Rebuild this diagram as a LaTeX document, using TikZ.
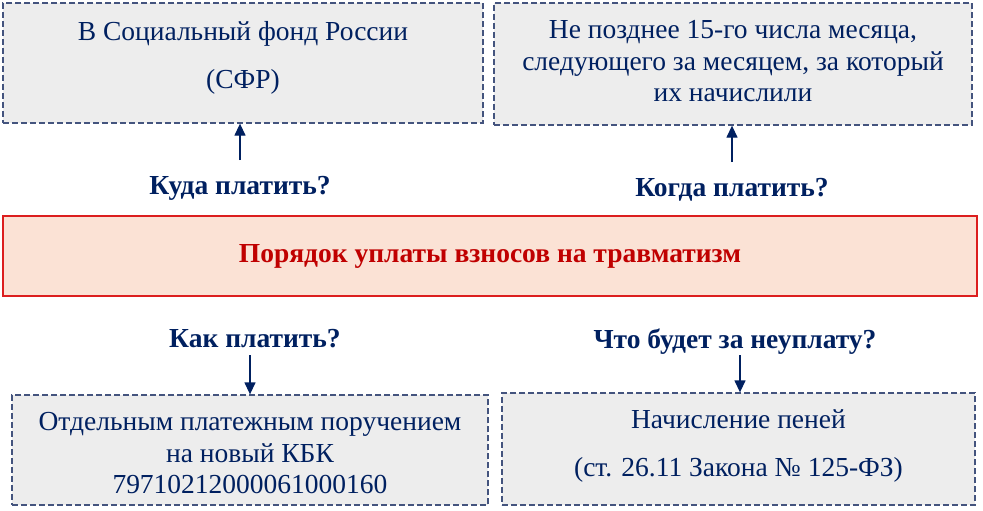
\documentclass[tikz,border=0pt]{standalone}
\usepackage{fontspec}
\setmainfont{Liberation Serif}
\usetikzlibrary{arrows.meta}
\definecolor{navy}{RGB}{0,32,96}
\definecolor{dashc}{RGB}{68,84,126}
\definecolor{boxfill}{RGB}{237,237,237}
\definecolor{redfill}{RGB}{251,226,213}
\definecolor{redline}{RGB}{220,30,30}
\definecolor{redtext}{RGB}{192,0,0}
\tikzset{
  infobox/.style={draw=dashc, fill=boxfill, line width=1.3pt, dash pattern=on 6pt off 3pt,
    inner sep=0pt, text=navy, align=center, font=\fontsize{27.5}{31.5}\selectfont},
  qlabel/.style={text=navy, font=\fontsize{27.5}{31}\selectfont\bfseries, inner sep=0pt},
  conn/.style={draw=navy, line width=1.3pt, -{Triangle[length=12pt,width=11pt]}}
}
\begin{document}
\begin{tikzpicture}[x=1pt,y=-1pt]
\useasboundingbox (0,0) rectangle (983,511);
% top boxes
\node[infobox, minimum width=480pt, minimum height=120pt, text depth=16pt] (b1) at (243,63)
  {В Социальный фонд России\\[16pt](СФР)};
\node[infobox, minimum width=478pt, minimum height=122pt, text depth=6pt] (b2) at (733,64)
  {Не позднее 15-го числа месяца,\\следующего за месяцем, за который\\их начислили};
% center
\node[draw=redline, fill=redfill, line width=1.2pt, minimum width=974pt, minimum height=80pt,
  text=redtext, font=\fontsize{27.5}{31}\selectfont\bfseries] (c) at (490,256)
  {Порядок уплаты взносов на травматизм};
% labels
\node[qlabel] (q1) at (240,188) {Куда платить?};
\node[qlabel] (q2) at (732,190) {Когда платить?};
\node[qlabel] (q3) at (255,339) {Как платить?};
\node[qlabel] (q4) at (735,342) {Что будет за неуплату?};
% bottom boxes
\node[infobox, minimum width=476pt, minimum height=110pt, text height=88pt] (b3) at (250,450)
  {Отдельным платежным поручением\\на новый КБК\\79710212000061000160};
\node[infobox, minimum width=473pt, minimum height=112pt, text depth=12pt] (b4) at (738.5,449)
  {Начисление пеней\\[16pt](ст. 26.11 Закона № 125-ФЗ)};
% connectors
\draw[conn] ([yshift=28pt]q1.center) -- (q1.center |- b1.south);
\draw[conn] ([yshift=28pt]q2.center) -- (q2.center |- b2.south);
\draw[conn] ([xshift=-5pt,yshift=-16pt]q3.center) -- ([xshift=-5pt]q3.center |- b3.north);
\draw[conn] ([xshift=5pt,yshift=-13pt]q4.center) -- ([xshift=5pt]q4.center |- b4.north);
\end{tikzpicture}
\end{document}
